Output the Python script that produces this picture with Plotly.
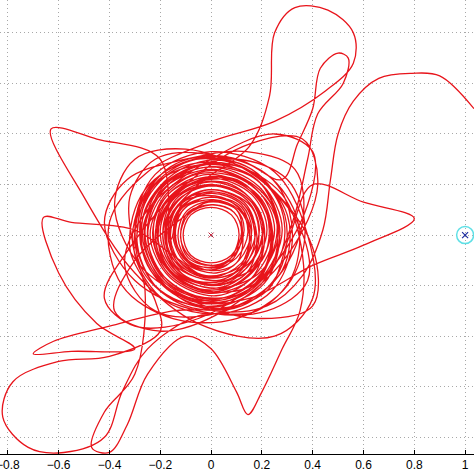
import plotly.graph_objects as go

# trajectory waypoints (x, y)
outer_start = [(1.035,0.50),(0.90,0.63),(0.79,0.64),(0.66,0.62),(0.56,0.53),(0.50,0.40),(0.47,0.22),(0.44,0.02),
               (0.36,-0.16),(0.22,-0.28),(0.02,-0.30),(-0.16,-0.22),(-0.26,-0.04),(-0.22,0.16),(-0.06,0.27),(0.14,0.26),
               (0.27,0.12),(0.28,-0.06),(0.16,-0.20),(-0.02,-0.22),(-0.18,-0.12),(-0.20,0.06),(-0.08,0.20),(0.10,0.21),
               (0.22,0.08),(0.20,-0.10),(0.04,-0.18),(-0.14,-0.12),(-0.17,0.05)]
top_loop = [(-0.05,0.20),(0.15,0.35),(0.23,0.55),(0.25,0.80),(0.33,0.90),(0.46,0.89),(0.56,0.80),(0.56,0.68),
            (0.45,0.57),(0.25,0.45),(0.0,0.37),(-0.25,0.25),(-0.40,0.05),(-0.35,-0.2),(-0.15,-0.33),(0.1,-0.33),
            (0.3,-0.2),(0.37,0.02),(0.3,0.22),(0.1,0.3)]
core_a = [(-0.12,0.24),(-0.24,0.08),(-0.22,-0.12),(-0.06,-0.24),(0.14,-0.22),(0.24,-0.06),(0.20,0.14),(0.04,0.23),
          (-0.13,0.17),(-0.19,0.00),(-0.12,-0.16),(0.06,-0.19),(0.18,-0.06),(0.16,0.11),(0.00,0.18),(-0.14,0.10),
          (-0.15,-0.07),(-0.02,-0.16),(0.13,-0.11),(0.15,0.05),(0.04,0.15),(-0.11,0.13),(-0.16,-0.02)]
left_triangle = [(-0.2,0.30),(-0.45,0.38),(-0.63,0.42),(-0.50,0.15),(-0.30,-0.15),(-0.05,-0.35),(0.25,-0.40),
                 (0.40,-0.25),(0.38,0.0),(0.25,0.25),(0.0,0.33),(-0.22,0.24),(-0.30,0.02),(-0.22,-0.20),(0.00,-0.29),
                 (0.22,-0.22),(0.31,0.00)]
right_vertex = [(0.40,0.20),(0.60,0.13),(0.80,0.065),(0.60,-0.04),(0.40,-0.12),(0.15,-0.25),(-0.08,-0.26),
                (-0.25,-0.12),(-0.26,0.10),(-0.12,0.26),(0.10,0.30),(0.28,0.22),(0.34,0.36)]
inner_top = [(0.40,0.50),(0.43,0.66),(0.50,0.72),(0.54,0.70),(0.52,0.60),(0.42,0.48),(0.38,0.30),(0.32,0.05),
             (0.22,-0.16),(0.02,-0.26),(-0.18,-0.20),(-0.28,0.00),(-0.22,0.20),(-0.02,0.28),(0.18,0.22),
             (0.26,0.04),(0.20,-0.14),(0.02,-0.21),(-0.16,-0.14),(-0.21,0.04),(-0.10,0.19),(0.08,0.20),
             (0.20,0.07),(0.16,-0.10),(0.00,-0.17),(-0.15,-0.08),(-0.30,0.02)]
lower_left = [(-0.55,0.05),(-0.66,0.07),(-0.60,-0.15),(-0.45,-0.35),(-0.30,-0.45),(-0.55,-0.46),(-0.70,-0.47),
              (-0.62,-0.42),(-0.40,-0.36),(-0.15,-0.30),(0.10,-0.28),(0.28,-0.14),(0.30,0.08),(0.16,0.25),
              (-0.06,0.30),(-0.26,0.18),(-0.32,-0.05),(-0.22,-0.26)]
big_bottom_left = [(-0.20,-0.38),(-0.40,-0.48),(-0.60,-0.50),(-0.78,-0.58),(-0.82,-0.72),(-0.72,-0.84),
                   (-0.58,-0.86),(-0.42,-0.80),(-0.35,-0.62),(-0.25,-0.45),(-0.05,-0.32),(0.18,-0.30),
                   (0.32,-0.16),(0.34,0.06),(0.22,0.24),(0.00,0.31),(-0.22,0.22),(-0.31,0.00),(-0.26,-0.22)]
bottom_loop = [(-0.30,-0.55),(-0.42,-0.70),(-0.47,-0.84),(-0.40,-0.86),(-0.33,-0.75),(-0.25,-0.55),
               (-0.10,-0.40),(0.0,-0.45),(0.10,-0.62),(0.145,-0.71),(0.20,-0.62),(0.28,-0.45),(0.35,-0.30),
               (0.36,-0.08),(0.28,0.16),(0.08,0.28),(-0.14,0.26),(-0.27,0.10),(-0.25,-0.12),(-0.10,-0.25),
               (0.10,-0.25),(0.24,-0.12),(0.25,0.08),(0.12,0.22),(-0.06,0.24),(-0.20,0.13),(-0.22,-0.05),
               (-0.11,-0.19),(0.06,-0.21),(0.19,-0.10),(0.20,0.07),(0.09,0.18),(-0.07,0.18),(-0.17,0.07),
               (-0.16,-0.08),(-0.05,-0.16),(0.09,-0.15),(0.15,-0.03),(0.12,0.11),(0.00,0.15),(-0.12,0.10),
               (-0.14,-0.03),(-0.06,-0.13),(0.06,-0.12),(0.12,-0.02),(0.10,0.10),(-0.01,0.13),(-0.11,0.07)]
tilted = [(-0.30,-0.10),(-0.38,-0.30),(-0.20,-0.38),(0.05,-0.30),(0.30,-0.08),(0.42,0.20),(0.36,0.38),(0.15,0.36),
          (-0.10,0.20),(-0.32,-0.05),(-0.42,-0.25),(-0.30,-0.36),(-0.05,-0.33),(0.22,-0.15),(0.38,0.12),(0.40,0.33),
          (0.25,0.40),(0.00,0.30),(-0.25,0.10),(-0.34,-0.12),(-0.22,-0.30),(0.02,-0.31),(0.25,-0.18),(0.36,0.05),
          (0.33,0.26),(0.14,0.33),(-0.10,0.30),(-0.33,0.22),(-0.42,0.05),(-0.30,-0.18),(-0.05,-0.30),(0.22,-0.30),
          (0.38,-0.18),(0.34,0.05),(0.15,0.25),(-0.10,0.34),(-0.30,0.30),(-0.38,0.12),(-0.28,-0.12),(-0.05,-0.27),
          (0.20,-0.33),(0.40,-0.28),(0.40,-0.05),(0.22,0.20),(-0.02,0.32),(-0.22,0.30),(-0.32,0.15),(-0.30,-0.05)]
core_b = [(-0.28,0.12),(-0.30,-0.08),(-0.18,-0.26),(0.04,-0.31),(0.24,-0.22),(0.32,-0.02),(0.26,0.20),(0.06,0.31),
          (-0.16,0.27),(-0.29,0.08),(-0.27,-0.14),(-0.10,-0.28),(0.12,-0.28),(0.27,-0.14),(0.29,0.08),(0.16,0.26),
          (-0.06,0.30),(-0.24,0.18),(-0.29,-0.04),(-0.19,-0.23),(0.02,-0.28),(0.21,-0.19),(0.27,0.02),(0.19,0.21),
          (0.00,0.27),(-0.19,0.19),(-0.25,-0.01),(-0.16,-0.20),(0.04,-0.25),(0.20,-0.15),(0.23,0.05),(0.12,0.21),
          (-0.06,0.22),(-0.20,0.10),(-0.20,-0.09),(-0.06,-0.21),(0.11,-0.19),(0.20,-0.05),(0.16,0.13),(0.01,0.20),
          (-0.14,0.14),(-0.18,-0.03),(-0.09,-0.17),(0.08,-0.17),(0.17,-0.04),(0.13,0.12),(-0.02,0.17),(-0.14,0.07)]
core_c = [(-0.13,-0.05),(-0.06,-0.12),(0.06,-0.11),
          (0.11,0.00),(0.08,0.08),(0.00,0.11),(-0.08,0.08),(-0.11,0.00),(-0.08,-0.08),(0.00,-0.11),(0.08,-0.08),
          (0.12,0.01),(0.09,0.09),(0.00,0.12),(-0.09,0.08),(-0.12,-0.01),(-0.08,-0.09),(0.01,-0.12),(0.09,-0.08),
          (0.13,0.02),(0.10,0.10),(0.00,0.135),(-0.10,0.09),(-0.13,-0.01),(-0.09,-0.10),(0.01,-0.13),(0.10,-0.09),
          (0.145,0.01),(0.11,0.11),(-0.01,0.15),(-0.11,0.10),(-0.15,0.00),(-0.10,-0.11),(0.02,-0.15),(0.11,-0.10),
          (0.16,0.02),(0.12,0.12),(0.00,0.165),(-0.12,0.11),(-0.16,-0.01),(-0.11,-0.12),(0.01,-0.165),(0.12,-0.11),
          (0.175,0.01),(0.13,0.13),(-0.01,0.18),(-0.13,0.12),(-0.18,0.00),(-0.12,-0.13),(0.02,-0.18),(0.13,-0.12),
          (0.19,0.02),(0.14,0.14),(0.00,0.195),(-0.14,0.13),(-0.19,-0.01),(-0.13,-0.14),(0.01,-0.195),(0.14,-0.13),
          (0.205,0.01),(0.15,0.15),(-0.01,0.21),(-0.15,0.14),(-0.21,0.00),(-0.14,-0.15),(0.02,-0.21),(0.15,-0.14),
          (0.22,0.02),(0.16,0.16),(0.00,0.225),(-0.16,0.15),(-0.22,-0.01),(-0.15,-0.16),(0.01,-0.225),(0.16,-0.15),
          (0.235,0.01),(0.17,0.17),(-0.01,0.24),(-0.17,0.16),(-0.24,0.00),(-0.16,-0.17),(0.02,-0.24),(0.17,-0.16),
          (0.25,0.02),(0.18,0.18),(0.00,0.255),(-0.18,0.17),(-0.25,-0.01),(-0.17,-0.18),(0.01,-0.255),(0.18,-0.17),
          (0.265,0.01),(0.19,0.19),(-0.01,0.27),(-0.19,0.18),(-0.27,0.00),(-0.18,-0.19),(0.02,-0.27),(0.19,-0.18),
          (0.28,0.02),(0.20,0.20),(0.00,0.285),(-0.20,0.19),(-0.28,-0.01),(-0.19,-0.20),(0.01,-0.285),(0.20,-0.19),
          (0.27,0.03),(0.19,0.18),(0.01,0.26),(-0.18,0.19),(-0.26,0.02),(-0.19,-0.17),(0.00,-0.26),(0.18,-0.19),
          (0.24,0.00),(0.17,0.16),(0.02,0.23),(-0.16,0.17),(-0.23,0.01),(-0.17,-0.15),(-0.01,-0.23),(0.16,-0.17),
          (0.21,0.01),(0.15,0.14),(0.01,0.20),(-0.14,0.15),(-0.20,0.02),(-0.15,-0.13),(0.00,-0.20),(0.14,-0.15),
          (0.18,0.00),(0.13,0.12),(0.02,0.17),(-0.12,0.13),(-0.17,0.01),(-0.13,-0.11),(-0.01,-0.17),(0.12,-0.13),
          (0.15,0.01),(0.11,0.10),(0.01,0.14),(-0.10,0.11),(-0.14,0.02),(-0.11,-0.09),(0.00,-0.14),(0.10,-0.11),
          (0.125,0.00),(0.09,0.09),(0.01,0.12),(-0.09,0.09),(-0.12,0.00),(-0.09,-0.09),(0.00,-0.12),(0.09,-0.09),(0.11,0.0)]

segments = [outer_start, top_loop, core_a, left_triangle, right_vertex, inner_top,
            lower_left, big_bottom_left, bottom_loop, tilted, core_b, core_c]
xs, ys = [], []
for seg in segments:
    for px, py in seg:
        xs.append(px); ys.append(py)

x_ticks = [-0.8, -0.6, -0.4, -0.2, 0, 0.2, 0.4, 0.6, 0.8, 1]
x_tick_labels = ["−0.8", "−0.6", "−0.4", "−0.2", "0", "0.2", "0.4", "0.6", "0.8", "1"]

fig = go.Figure()
fig.add_trace(go.Scatter(x=xs, y=ys, mode="lines", line=dict(color="#e8141b", width=1.3, shape="spline", smoothing=1.0),
                         hoverinfo="skip"))
fig.add_trace(go.Scatter(x=[0], y=[0], mode="markers", marker=dict(symbol="x-thin", size=5, color="#c0203a",
                         line=dict(width=1, color="#c0203a"))))
fig.add_trace(go.Scatter(x=[1], y=[0], mode="markers", marker=dict(symbol="circle-open", size=17, color="#5fe0e6",
                         line=dict(width=1.5))))
fig.add_trace(go.Scatter(x=[1], y=[0], mode="markers", marker=dict(symbol="x-thin", size=6, color="#2030a0",
                         line=dict(width=1.2, color="#2030a0"))))

fig.update_layout(width=474, height=474, margin=dict(l=0, r=0, t=0, b=20), showlegend=False,
                  plot_bgcolor="white", paper_bgcolor="white",
                  font=dict(family="Liberation Sans, Arial", size=12, color="black"))
fig.add_annotation(x=x_ticks[0], y=0, yref="paper", yanchor="top", yshift=-2, text=x_tick_labels[0],
                   showarrow=False, font=dict(size=12))
fig.update_xaxes(range=[-0.831, 1.035], tickvals=x_ticks, ticktext=x_tick_labels, showgrid=True,
                 gridcolor="#a8a8a8", griddash="1px,3px", gridwidth=1, zeroline=False, showline=True,
                 linecolor="black", ticks="inside", ticklen=4, tickcolor="black", automargin=False)
fig.update_yaxes(range=[-0.866, 0.93], dtick=0.2, tick0=0, showgrid=True, gridcolor="#a8a8a8", griddash="1px,3px",
                 gridwidth=1, zeroline=False, showticklabels=False, showline=False, automargin=False)
fig.write_html("out.html", config={"displayModeBar": False})
with open("out.html", encoding="utf-8") as f:
    html = f.read()
html = html.replace("<head>", "<head><style>html,body{margin:0;padding:0;overflow:hidden;}</style>", 1)
with open("out.html", "w", encoding="utf-8") as f:
    f.write(html)
